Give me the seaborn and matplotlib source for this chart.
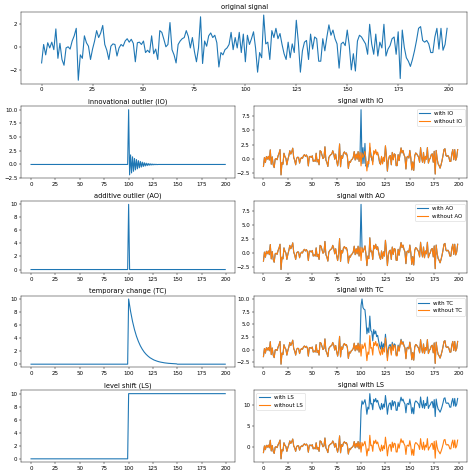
import numpy as np
import seaborn as sns
import matplotlib
matplotlib.use("Agg")
import matplotlib.pyplot as plt

# original noise signal (t = 0..199)
signal = [
    -1.4, 0.2, -0.7, 0.35, -0.1, 0.4, -0.25, 1.55, -1.0, 0.3,
    -1.1, -1.6, -0.1, 0.0, -0.2, 0.5, 0.95, 1.6, -2.9, -0.7,
    -1.0, 0.95, 0.35, 0.05, -1.1, -0.2, 0.5, 1.4, 0.8, 1.2,
    1.85, 0.2, -0.3, -1.1, 0.05, 0.25, 0.2, -0.8, -0.1, 0.2,
    0.05, 0.5, 0.7, 0.4, 0.65, 0.3, -1.3, 0.35, 0.4, 0.2,
    0.5, -0.5, -0.3, -0.5, 0.95, -0.6, -0.2, -1.1, 1.4, 1.25,
    0.65, 0.0, 0.2, 2.1, -0.25, -0.7, -1.4, 0.2, 0.5, 0.7,
    0.8, 1.4, 0.9, -0.1, 0.8, -0.4, -1.3, -0.1, 2.6, -1.45,
    0.5, 0.05, 0.95, 1.2, 0.8, 1.0, 0.35, -1.75, -0.5, -0.7,
    -0.25, -0.1, 0.2, 1.25, -0.25, 0.8, -0.1, 1.25, -0.5, 1.1,
    -1.3, 1.0, 0.2, 0.7, 1.3, -0.1, -2.2, -0.5, -0.95, 2.75,
    0.25, 0.4, -1.1, 1.4, 0.8, 1.6, 0.7, 1.15, 0.2, -0.6,
    -1.1, 0.4, -0.95, 0.25, -0.5, 2.3, 0.4, -2.2, -0.35, 0.4,
    0.55, -1.1, 1.1, -0.2, 0.85, 0.7, -1.25, -1.25, 0.7, -0.35,
    0.85, 1.9, 1.0, 1.45, 0.7, 0.25, -1.85, 0.25, 0.4, 0.1,
    1.45, 0.1, -2.0, -0.6, -2.1, 0.5, 1.0, 0.85, 0.55, 0.25,
    -0.65, 1.95, 0.25, -0.65, 1.1, -0.8, 0.4, -0.1, 1.95, -0.8,
    -0.2, 0.1, 0.7, 0.85, -0.65, 1.3, -2.75, 1.45, -0.05, -0.95,
    -1.25, -1.7, -1.1, -0.35, 0.55, 1.6, 1.75, 0.55, 0.4, 0.55,
    0.25, -0.5, -0.5, 0.85, 1.6, -0.2, 1.6, -0.3, 0.2, 1.6,
]

# outlier effects (non-zero part starts at t = 100)
io_tail = [10.0, -1.9, 1.75, -1.55, 1.4, -1.25, 1.1, -1.0, 0.9, -0.8,
           0.7, -0.62, 0.55, -0.48, 0.42, -0.37, 0.32, -0.28, 0.24, -0.21,
           0.18, -0.15, 0.13, -0.11, 0.09, -0.08, 0.06, -0.05, 0.04, -0.03]
ao_tail = [10.0]
tc_tail = [10.0, 9.0, 8.1, 7.29, 6.56, 5.9, 5.31, 4.78, 4.3, 3.87,
           3.49, 3.14, 2.82, 2.54, 2.29, 2.06, 1.85, 1.67, 1.5, 1.35,
           1.22, 1.09, 0.98, 0.89, 0.8, 0.72, 0.64, 0.58, 0.52, 0.47,
           0.42, 0.38, 0.34, 0.31, 0.28, 0.25, 0.22, 0.2, 0.18, 0.16,
           0.15, 0.13, 0.12, 0.11, 0.1, 0.09, 0.08, 0.07, 0.06, 0.05]
ls_tail = [10.0] * 100

n = len(signal)
t = np.arange(n)
x = np.array(signal)


def pad(tail):
    e = np.zeros(n)
    e[100:100 + len(tail)] = tail
    return e


effects = [
    ("innovational outlier (IO)", "IO", pad(io_tail),
     [-2.5, 0, 2.5, 5, 7.5, 10], [-2.5, 0, 2.5, 5, 7.5], "upper right"),
    ("additive outlier (AO)", "AO", pad(ao_tail),
     [0, 2, 4, 6, 8, 10], [-2.5, 0, 2.5, 5, 7.5], "upper right"),
    ("temporary change (TC)", "TC", pad(tc_tail),
     [0, 2, 4, 6, 8, 10], [-2.5, 0, 2.5, 5, 7.5, 10], "upper right"),
    ("level shift (LS)", "LS", pad(ls_tail),
     [0, 2, 4, 6, 8, 10], [0, 5, 10], "upper left"),
]

plt.rcParams["lines.linewidth"] = 2.0

dpi = 39.5
fig = plt.figure(figsize=(474 / dpi, 472 / dpi), dpi=dpi)
gs = fig.add_gridspec(5, 2, left=0.045, right=0.986, top=0.975, bottom=0.021,
                      hspace=0.32, wspace=0.088)

ax = fig.add_subplot(gs[0, :])
sns.lineplot(x=t, y=x, ax=ax, linewidth=2.0)
ax.set_title("original signal")
ax.set_xticks(range(0, 201, 25))
ax.set_yticks([-2, 0, 2])

for i, (title, short, eff, lt, rt, loc) in enumerate(effects):
    axl = fig.add_subplot(gs[i + 1, 0])
    sns.lineplot(x=t, y=eff, ax=axl, linewidth=2.0)
    axl.set_title(title)
    axl.set_xticks(range(0, 201, 25))
    axl.set_yticks(lt)

    axr = fig.add_subplot(gs[i + 1, 1])
    sns.lineplot(x=t, y=x + eff, ax=axr, label="with " + short, linewidth=2.0)
    sns.lineplot(x=t, y=x, ax=axr, label="without " + short, linewidth=2.0)
    axr.set_title("signal with " + short)
    axr.set_xticks(range(0, 201, 25))
    axr.set_yticks(rt)
    axr.legend(loc=loc)

fig.savefig("out.png", dpi=dpi)
